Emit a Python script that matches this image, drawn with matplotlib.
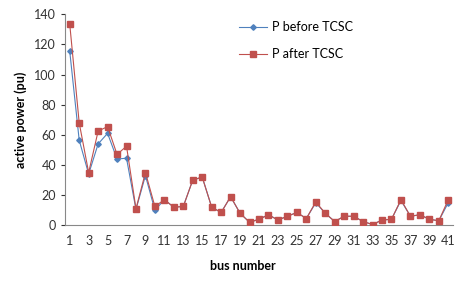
import matplotlib.pyplot as plt
import numpy as np

plt.rcParams['font.family'] = ['Lato', 'DejaVu Sans']

bus = np.arange(1, 42)
p_before = [115.5, 56.5, 34, 54, 61, 44, 44.5, 10.5, 33, 10,
            17, 12, 12.5, 30, 32, 12, 8.5, 19, 8, 2,
            4, 7, 3.5, 6, 8.5, 4.5, 15, 8, 2.5, 6,
            6, 2.5, 0.5, 3.5, 4, 16.5, 6, 7, 4, 3, 15]
p_after = [133.5, 68, 35, 62.5, 65.5, 47, 52.5, 11, 35, 12.5,
           17, 12, 12.5, 30, 32, 12, 8.5, 19, 8, 2,
           4, 7, 3.5, 6, 8.5, 4.5, 15.5, 8, 2.5, 6,
           6, 2.5, 0.5, 3.5, 4, 17, 6, 7, 4, 3, 17]
xticks = list(range(1, 42, 2))
yticks = list(range(0, 141, 20))

fig = plt.figure(figsize=(4.74, 2.84), dpi=100)
ax = fig.add_axes([65 / 474, 1 - 225.3 / 284, (453 - 65) / 474, (225.3 - 14.3) / 284])

ax.plot(bus, p_before, color='#4F81BD', lw=0.8, marker='D', ms=2.8,
        label='P before TCSC', zorder=2)
ax.plot(bus, p_after, color='#C0504D', lw=0.8, marker='s', ms=4.3,
        label='P after TCSC', zorder=3)

ax.set_xlim(0.5, 41.5)
ax.set_ylim(0, 140)
ax.set_xticks(xticks)
ax.set_yticks(yticks)
ax.tick_params(axis='x', length=0, labelsize=9, pad=7, colors='#333333')
ax.tick_params(axis='y', length=3, labelsize=9, colors='#333333', direction='out')
for s in ['top', 'right']:
    ax.spines[s].set_visible(False)
for s in ['left', 'bottom']:
    ax.spines[s].set_color('#888888')
    ax.spines[s].set_linewidth(0.8)

ax.set_xlabel('bus number', fontsize=9, fontweight='bold')
ax.xaxis.set_label_coords((243 - 65) / (453 - 65), -(260 - 225.3) / (225.3 - 14.3))
ax.set_ylabel('active power (pu)', fontsize=9, fontweight='bold')
ax.yaxis.set_label_coords(-(65 - 27) / (453 - 65), (225.3 - 119.5) / (225.3 - 14.3))

leg = ax.legend(loc='upper left', bbox_to_anchor=(0.42, 1.02), frameon=False,
                fontsize=9, handlelength=2.2, labelspacing=1.2, handletextpad=0.4)

fig.savefig('out.png', dpi=100)
